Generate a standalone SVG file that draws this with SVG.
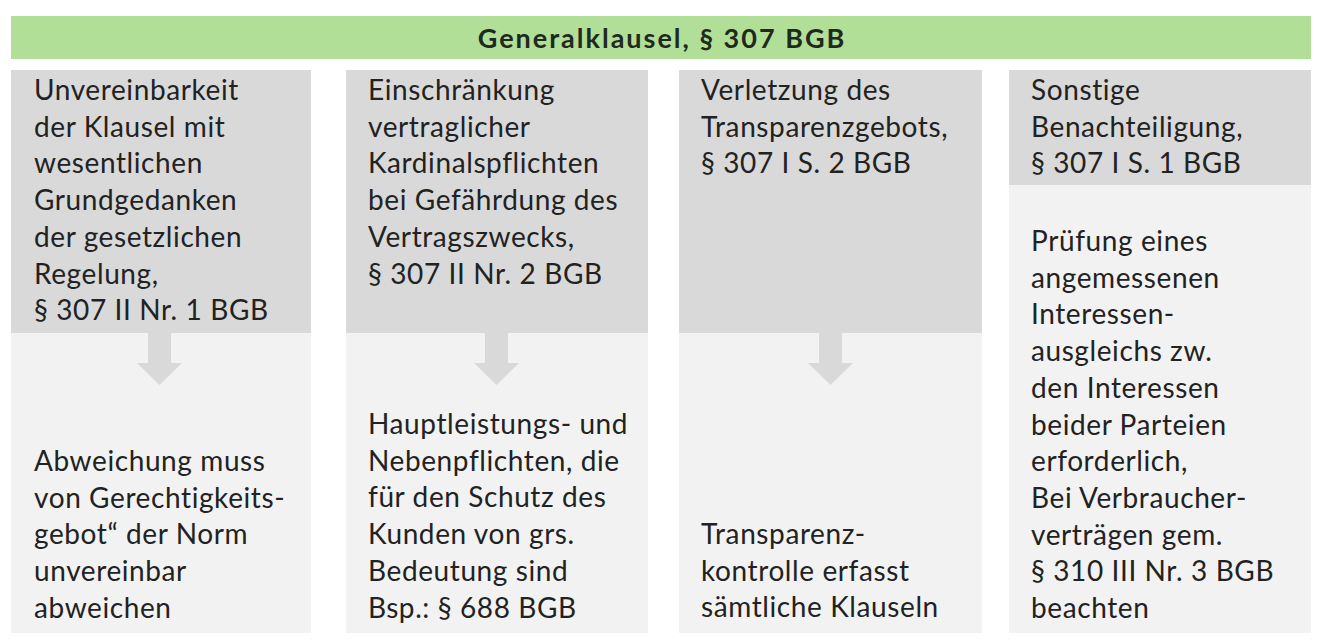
<svg xmlns="http://www.w3.org/2000/svg" width="1323" height="643" viewBox="0 0 1323 643">
<style>
.hdr{fill:#d9d9d9}
.bdy{fill:#f2f2f2}
.arr{fill:#d9d9d9}
text{font-family:Lato,"Liberation Sans",sans-serif;font-size:28px;letter-spacing:0.6px;fill:#222222}
.title{font-weight:bold;font-size:27px;letter-spacing:2px;fill:#1e2a1e}
</style>
<rect width="1323" height="643" fill="#ffffff"/>
<g id="title">
<rect x="11" y="16" width="1300" height="43" fill="#b2df98"/>
<text class="title" x="662" y="48" text-anchor="middle">Generalklausel, § 307 BGB</text>
</g>
<g id="col1">
<rect class="hdr" x="11" y="70" width="300" height="263"/>
<rect class="bdy" x="11" y="333" width="300" height="300"/>
<text x="34" y="100"><tspan x="34">Unvereinbarkeit</tspan><tspan x="34" dy="36.7">der Klausel mit</tspan><tspan x="34" dy="36.7">wesentlichen</tspan><tspan x="34" dy="36.7">Grundgedanken</tspan><tspan x="34" dy="36.7">der gesetzlichen</tspan><tspan x="34" dy="36.7">Regelung,</tspan><tspan x="34" dy="36.7">§ 307 II Nr. 1 BGB</tspan></text>
<text x="34" y="471"><tspan x="34">Abweichung muss</tspan><tspan x="34" dy="36.7">von Gerechtigkeits-</tspan><tspan x="34" dy="36.7">gebot“ der Norm</tspan><tspan x="34" dy="36.7">unvereinbar</tspan><tspan x="34" dy="36.7">abweichen</tspan></text>
</g>
<g id="col2">
<rect class="hdr" x="346" y="70" width="302" height="263"/>
<rect class="bdy" x="346" y="333" width="302" height="300"/>
<text x="368" y="100"><tspan x="368">Einschränkung</tspan><tspan x="368" dy="36.7">vertraglicher</tspan><tspan x="368" dy="36.7">Kardinalspflichten</tspan><tspan x="368" dy="36.7">bei Gefährdung des</tspan><tspan x="368" dy="36.7">Vertragszwecks,</tspan><tspan x="368" dy="36.7">§ 307 II Nr. 2 BGB</tspan></text>
<text x="368" y="434"><tspan x="368">Hauptleistungs- und</tspan><tspan x="368" dy="36.7">Nebenpflichten, die</tspan><tspan x="368" dy="36.7">für den Schutz des</tspan><tspan x="368" dy="36.7">Kunden von grs.</tspan><tspan x="368" dy="36.7">Bedeutung sind</tspan><tspan x="368" dy="36.7">Bsp.: § 688 BGB</tspan></text>
</g>
<g id="col3">
<rect class="hdr" x="679" y="70" width="303" height="263"/>
<rect class="bdy" x="679" y="333" width="303" height="300"/>
<text x="701" y="100"><tspan x="701">Verletzung des</tspan><tspan x="701" dy="36.7">Transparenzgebots,</tspan><tspan x="701" dy="36.7">§ 307 I S. 2 BGB</tspan></text>
<text x="701" y="544"><tspan x="701">Transparenz-</tspan><tspan x="701" dy="36.7">kontrolle erfasst</tspan><tspan x="701" dy="36.7">sämtliche Klauseln</tspan></text>
</g>
<g id="col4">
<rect class="hdr" x="1009" y="70" width="302" height="115"/>
<rect class="bdy" x="1009" y="185" width="302" height="448"/>
<text x="1031" y="100"><tspan x="1031">Sonstige</tspan><tspan x="1031" dy="36.7">Benachteiligung,</tspan><tspan x="1031" dy="36.7">§ 307 I S. 1 BGB</tspan></text>
<text x="1031" y="251"><tspan x="1031">Prüfung eines</tspan><tspan x="1031" dy="36.7">angemessenen</tspan><tspan x="1031" dy="36.7">Interessen-</tspan><tspan x="1031" dy="36.7">ausgleichs zw.</tspan><tspan x="1031" dy="36.7">den Interessen</tspan><tspan x="1031" dy="36.7">beider Parteien</tspan><tspan x="1031" dy="36.7">erforderlich,</tspan><tspan x="1031" dy="36.7">Bei Verbraucher-</tspan><tspan x="1031" dy="36.7">verträgen gem.</tspan><tspan x="1031" dy="36.7">§ 310 III Nr. 3 BGB</tspan><tspan x="1031" dy="36.7">beachten</tspan></text>
</g>
<g id="connectors">
<polygon class="arr" points="148,333 171,333 171,363 182,363 159.5,385 137,363 148,363"/>
<polygon class="arr" points="485,333 508,333 508,363 519,363 496.5,385 474,363 485,363"/>
<polygon class="arr" points="819,333 842,333 842,363 853,363 830.5,385 808,363 819,363"/>
</g>
</svg>
